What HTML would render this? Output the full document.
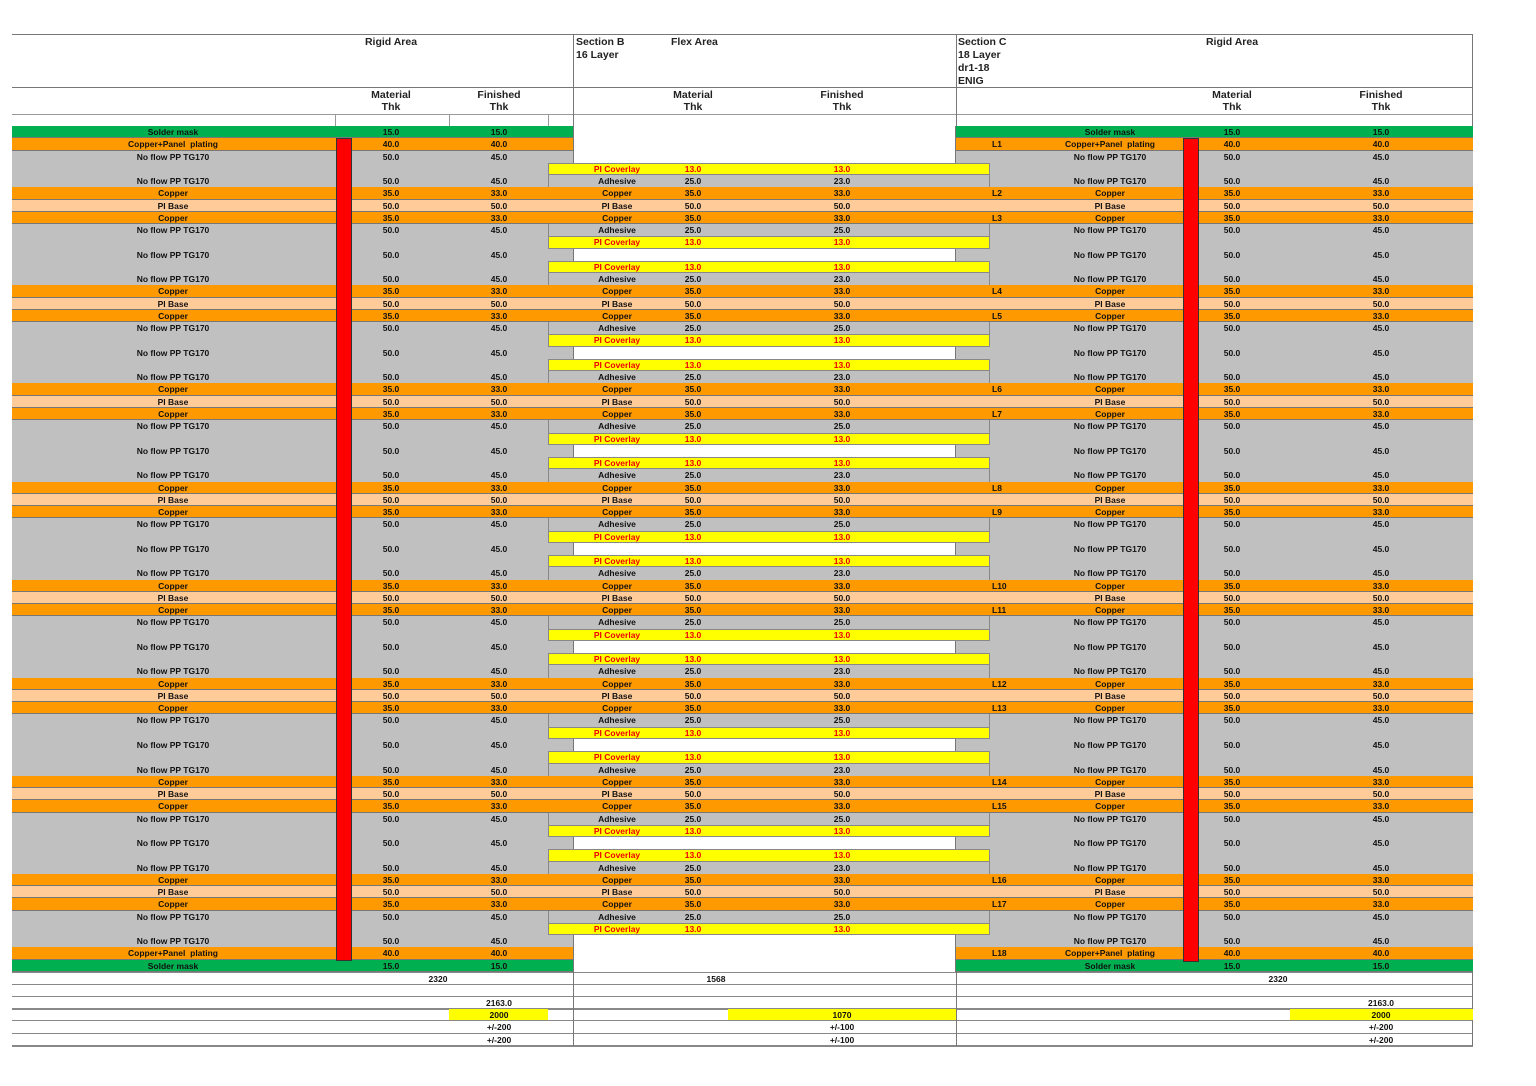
<!DOCTYPE html>
<html><head><meta charset="utf-8"><style>
html,body{margin:0;padding:0;background:#fff;}
body{width:1536px;height:1086px;position:relative;overflow:hidden;font-family:"Liberation Sans",sans-serif;}
.a{position:absolute;box-sizing:border-box;}
.t{position:absolute;font-size:8.5px;font-weight:bold;color:#111;white-space:nowrap;transform:translateX(-50%);line-height:12px;}
.tl{position:absolute;font-size:8.5px;font-weight:bold;color:#111;white-space:nowrap;line-height:12px;}
.h{position:absolute;font-size:10.5px;font-weight:bold;color:#222;white-space:nowrap;line-height:13px;}
</style></head><body>
<div id="r"></div>
<script>
var R=document.getElementById('r'),H='';
function box(x,y,w,h,bg,extra){H+='<div class="a" style="left:'+x+'px;top:'+y+'px;width:'+w+'px;height:'+h+'px;background:'+bg+';'+(extra||'')+'"></div>';}
function tx(x,y,s,c){H+='<div class="t" style="left:'+x+'px;top:'+y+'px;'+(c?'color:'+c:'')+'">'+s+'</div>';}
function tl(x,y,s){H+='<div class="tl" style="left:'+x+'px;top:'+y+'px;">'+s+'</div>';}
function hd(x,y,s,c){H+='<div class="h" style="left:'+x+'px;top:'+y+'px;'+(c?'transform:translateX(-50%)':'')+'">'+s+'</div>';}
// header
box(12,34,1461,1,'#777');box(12,87,1461,1,'#777');box(12,114,1461,1,'#999');
box(573,34,1,92,'#777');box(956,34,1,92,'#777');box(1472,34,1,92,'#777');
box(12,126,561,1,'#888');box(335,114,1,12,'#999');box(449,114,1,12,'#999');box(548,114,1,12,'#999');
hd(391,36,'Rigid Area',1);hd(576,36,'Section B');hd(576,49,'16 Layer');hd(671,36,'Flex Area');
hd(958,36,'Section C');hd(958,49,'18 Layer');hd(958,62,'dr1-18');hd(958,75,'ENIG');hd(1232,36,'Rigid Area',1);
hd(391,89,'Material',1);hd(391,101,'Thk',1);hd(499,89,'Finished',1);hd(499,101,'Thk',1);
hd(693,89,'Material',1);hd(693,101,'Thk',1);hd(842,89,'Finished',1);hd(842,101,'Thk',1);
hd(1232,89,'Material',1);hd(1232,101,'Thk',1);hd(1381,89,'Finished',1);hd(1381,101,'Thk',1);
var S=12.26,Lmap={1:'L1',67:'L18'};
for(var n=2,i=5;i<=63;i+=8){Lmap[i]='L'+n;Lmap[i+2]='L'+(n+1);n+=2;}
for(var i=0;i<69;i++){
 var y=Math.round(126+S*i),h=Math.round(126+S*(i+1))-y,ty=y;
 function sides(a,b,c,bg){box(12,y,561,h,bg,'border-bottom:1px solid #777');box(956,y,517,h,bg,'border-bottom:1px solid #777');
  tx(173,ty,a);tx(391,ty,b);tx(499,ty,c);tx(1110,ty,a);tx(1232,ty,b);tx(1381,ty,c);}
 if(i==0||i==68){sides('Solder mask','15.0','15.0','#00b050');}
 else if(i==1||i==67){sides('Copper+Panel&nbsp; plating','40.0','40.0','#ff9900');tl(992,ty,Lmap[i]);}
 else if(i>=5&&i<=63&&(i%8==5||i%8==7||i%8==6)){
  var cu=i%8!=6,bg=cu?'#ff9900':'#ffcc99',nm=cu?'Copper':'PI Base',m=cu?'35.0':'50.0',f=cu?'33.0':'50.0';
  box(12,y,1461,h,bg,'border-bottom:1px solid #777');
  tx(173,ty,nm);tx(391,ty,m);tx(499,ty,f);tx(617,ty,nm);tx(693,ty,m);tx(842,ty,f);
  tx(1110,ty,nm);tx(1232,ty,m);tx(1381,ty,f);if(Lmap[i])tl(992,ty,Lmap[i]);
 } else {
  var k=i%8;
  box(12,y,561,h,'#c0c0c0');box(956,y,517,h,'#c0c0c0');
  if(k==0||k==2||k==4){tx(173,ty,'No flow PP TG170');tx(391,ty,'50.0');tx(499,ty,'45.0');tx(1110,ty,'No flow PP TG170');tx(1232,ty,'50.0');tx(1381,ty,'45.0');}
  if(k==2){}
  else if(k==1||k==3){box(548,y,442,h,'#ffff00','border:1px solid #888');tx(617,ty,'PI Coverlay','#e00');tx(693,ty,'13.0','#e00');tx(842,ty,'13.0','#e00');}
  else {box(548,y,442,h,'#c0c0c0','border-left:1px solid #888;border-right:1px solid #888');tx(617,ty,'Adhesive');tx(693,ty,'25.0');tx(842,ty,k==4?'23.0':'25.0');}
 }
}
// white middle areas with borders
box(573,126,383,Math.round(126+S*3)-126,'#fff','border-left:1px solid #777;border-right:1px solid #777');
for(var i=10;i<=66;i+=8){var y=Math.round(126+S*i);box(573,y,383,Math.round(126+S*(i+1))-y,'#fff','border-left:1px solid #777;border-right:1px solid #777');}
var y67=Math.round(126+S*67);box(573,y67,383,Math.round(126+S*69)-y67,'#fff','border-left:1px solid #777;border-right:1px solid #777');
// red bars
box(336,138,16,823,'#ff0000','border:1px solid #333');box(1183,138,16,824,'#ff0000','border:1px solid #333');
// bottom
var lines=[972,984,996,1008,1020,1033,1045];
lines.forEach(function(l,j){box(12,l,1461,(j==3||j==6)?2:1,'#888');});
box(573,972,1,74,'#777');box(956,972,1,74,'#777');box(1472,972,1,74,'#777');
box(449,1009,99,11,'#ffff00');box(728,1009,228,11,'#ffff00');box(1290,1009,183,11,'#ffff00');
tx(438,973,'2320');tx(716,973,'1568');tx(1278,973,'2320');
tx(499,997,'2163.0');tx(1381,997,'2163.0');
tx(499,1009,'2000');tx(842,1009,'1070');tx(1381,1009,'2000');
tx(499,1021,'+/-200');tx(842,1021,'+/-100');tx(1381,1021,'+/-200');
tx(499,1034,'+/-200');tx(842,1034,'+/-100');tx(1381,1034,'+/-200');
R.innerHTML=H;
</script>
</body></html>
